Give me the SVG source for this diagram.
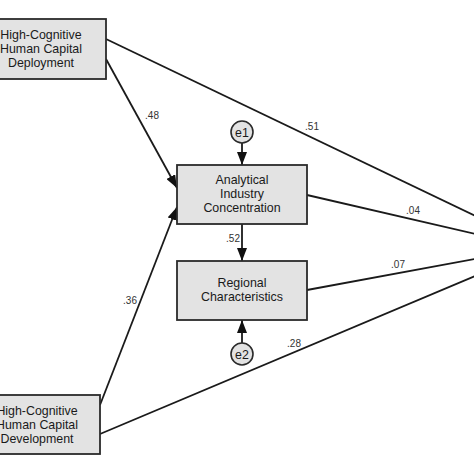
<svg xmlns="http://www.w3.org/2000/svg" width="474" height="474" viewBox="0 0 474 474">
<style>
.box{fill:#e3e3e3;stroke:#2a2a2a;stroke-width:1.8}
.circ{fill:#e3e3e3;stroke:#2a2a2a;stroke-width:1.6}
.t{font-family:"Liberation Sans",Arial,sans-serif;font-size:12.4px;fill:#1a1a1a;text-anchor:middle}
.lbl{font-family:"Liberation Sans",Arial,sans-serif;font-size:10px;fill:#333;text-anchor:middle}
.ln{stroke:#1a1a1a;stroke-width:1.8;fill:none}
.arr{marker-end:url(#ah)}
</style>
<defs>
<marker id="ah" markerUnits="userSpaceOnUse" markerWidth="13" markerHeight="10" refX="13" refY="5" orient="auto">
<path d="M0,0 L13,5 L0,10 Z" fill="#111"/>
</marker>
</defs>
<rect width="474" height="474" fill="#fff"/>
<g id="connectors">
<line class="ln" x1="106" y1="39" x2="480" y2="218"/>
<line class="ln arr" x1="106" y1="59" x2="177" y2="188"/>
<line class="ln arr" x1="100" y1="405" x2="177" y2="207"/>
<line class="ln arr" x1="242" y1="143" x2="242" y2="165"/>
<line class="ln arr" x1="242" y1="224" x2="242" y2="261"/>
<line class="ln arr" x1="242" y1="343" x2="242" y2="320"/>
<line class="ln" x1="307" y1="195" x2="480" y2="235"/>
<line class="ln" x1="307" y1="290" x2="480" y2="258"/>
<line class="ln" x1="100" y1="434" x2="480" y2="274"/>
<text class="lbl" x="152" y="119">.48</text>
<text class="lbl" x="312" y="130">.51</text>
<text class="lbl" x="413" y="214">.04</text>
<text class="lbl" x="398" y="268">.07</text>
<text class="lbl" x="294" y="347">.28</text>
<text class="lbl" x="130" y="304">.36</text>
<text class="lbl" x="233" y="242">.52</text>
</g>
<g id="deployment">
<rect class="box" x="-24" y="19" width="130" height="60"/>
<text class="t" x="41" y="39">High-Cognitive</text>
<text class="t" x="41" y="53">Human Capital</text>
<text class="t" x="41" y="67">Deployment</text>
</g>
<g id="development">
<rect class="box" x="-28" y="395" width="128" height="59"/>
<text class="t" x="37" y="415">High-Cognitive</text>
<text class="t" x="37" y="429">Human Capital</text>
<text class="t" x="37" y="443">Development</text>
</g>
<g id="analytical">
<rect class="box" x="177" y="165" width="130" height="59"/>
<text class="t" x="242" y="184">Analytical</text>
<text class="t" x="242" y="198">Industry</text>
<text class="t" x="242" y="212">Concentration</text>
</g>
<g id="regional">
<rect class="box" x="177" y="261" width="130" height="59"/>
<text class="t" x="242" y="287">Regional</text>
<text class="t" x="242" y="301">Characteristics</text>
</g>
<g id="e1">
<circle class="circ" cx="242" cy="132" r="11"/>
<text class="t" x="242" y="136.5">e1</text>
</g>
<g id="e2">
<circle class="circ" cx="242" cy="354" r="11"/>
<text class="t" x="242" y="358.5">e2</text>
</g>
</svg>
